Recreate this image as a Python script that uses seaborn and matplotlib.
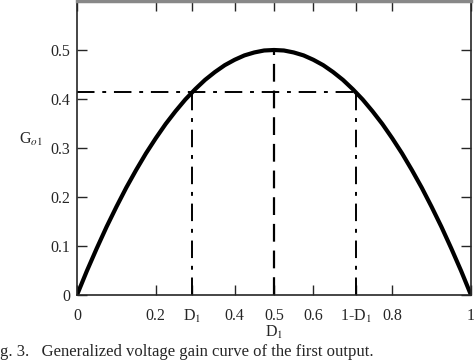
import seaborn as sns
import pandas as pd
import matplotlib.pyplot as plt

# values
duty = [0.0, 0.025, 0.05, 0.075, 0.1, 0.125, 0.15, 0.175, 0.2, 0.225, 0.25,
        0.275, 0.3, 0.325, 0.35, 0.375, 0.4, 0.425, 0.45, 0.475, 0.5,
        0.525, 0.55, 0.575, 0.6, 0.625, 0.65, 0.675, 0.7, 0.725, 0.75,
        0.775, 0.8, 0.825, 0.85, 0.875, 0.9, 0.925, 0.95, 0.975, 1.0]
gain = [0.0, 0.049, 0.095, 0.139, 0.18, 0.219, 0.255, 0.289, 0.32, 0.349, 0.375,
        0.399, 0.42, 0.439, 0.455, 0.469, 0.48, 0.489, 0.495, 0.499, 0.5,
        0.499, 0.495, 0.489, 0.48, 0.469, 0.455, 0.439, 0.42, 0.399, 0.375,
        0.349, 0.32, 0.289, 0.255, 0.219, 0.18, 0.139, 0.095, 0.049, 0.0]
d1 = 0.293
g_d1 = 0.414
xtick_pos = [0, 0.2, d1, 0.4, 0.5, 0.6, 1 - d1, 0.8, 1]
xtick_lab = ["0", "0.2", "D$_1$", "0.4", "0.5", "0.6", "1-D$_1$", "0.8", "1"]
ytick_pos = [0, 0.1, 0.2, 0.3, 0.4, 0.5]
ytick_lab = ["0", "0.1", "0.2", "0.3", "0.4", "0.5"]

sns.set_style("ticks")
plt.rcParams["font.family"] = ["Liberation Serif", "DejaVu Serif"]
plt.rcParams["mathtext.fontset"] = "stix"

df = pd.DataFrame({"D": duty, "G": gain})

fig = plt.figure(figsize=(4.74, 3.61), dpi=100)
ax = fig.add_axes([77 / 474, 1 - 295 / 361, 394 / 474, 294 / 361])

sns.lineplot(data=df, x="D", y="G", ax=ax, color="black", linewidth=3)

ax.plot([0, 1 - d1], [g_d1, g_d1], color="black", lw=1.4, dashes=(9, 4, 2, 4))
ax.plot([d1, d1], [0, g_d1], color="black", lw=1.4, dashes=(9, 4, 2, 4))
ax.plot([1 - d1, 1 - d1], [0, g_d1], color="black", lw=1.4, dashes=(9, 4, 2, 4))
ax.plot([0.5, 0.5], [0, 0.5], color="black", lw=1.6, dashes=(8, 4))

ax.set_xlim(0, 1)
ax.set_ylim(0, 0.6)
ax.set_xticks(xtick_pos)
ax.set_xticklabels(xtick_lab)
ax.set_yticks(ytick_pos)
ax.set_yticklabels(ytick_lab)
ax.tick_params(direction="in", length=7, width=1, labelsize=11.5, top=True, right=True)
ax.tick_params(axis="x", pad=9)
ax.tick_params(axis="y", pad=5)
for s in ax.spines.values():
    s.set_linewidth(1.2)
ax.spines["top"].set_color("#888888")
ax.spines["top"].set_linewidth(2.5)

ax.set_xlabel("D$_1$", fontsize=11.5)
ax.set_ylabel("G$_{o1}$", fontsize=11.5, rotation=0)
ax.xaxis.set_label_coords(0.5, -0.098)
ax.yaxis.set_label_coords(-0.118, 0.5)

fig.text(0.0, 0.015, "g. 3.   Generalized voltage gain curve of the first output.", fontsize=12)

fig.savefig("out.png", dpi=100)
